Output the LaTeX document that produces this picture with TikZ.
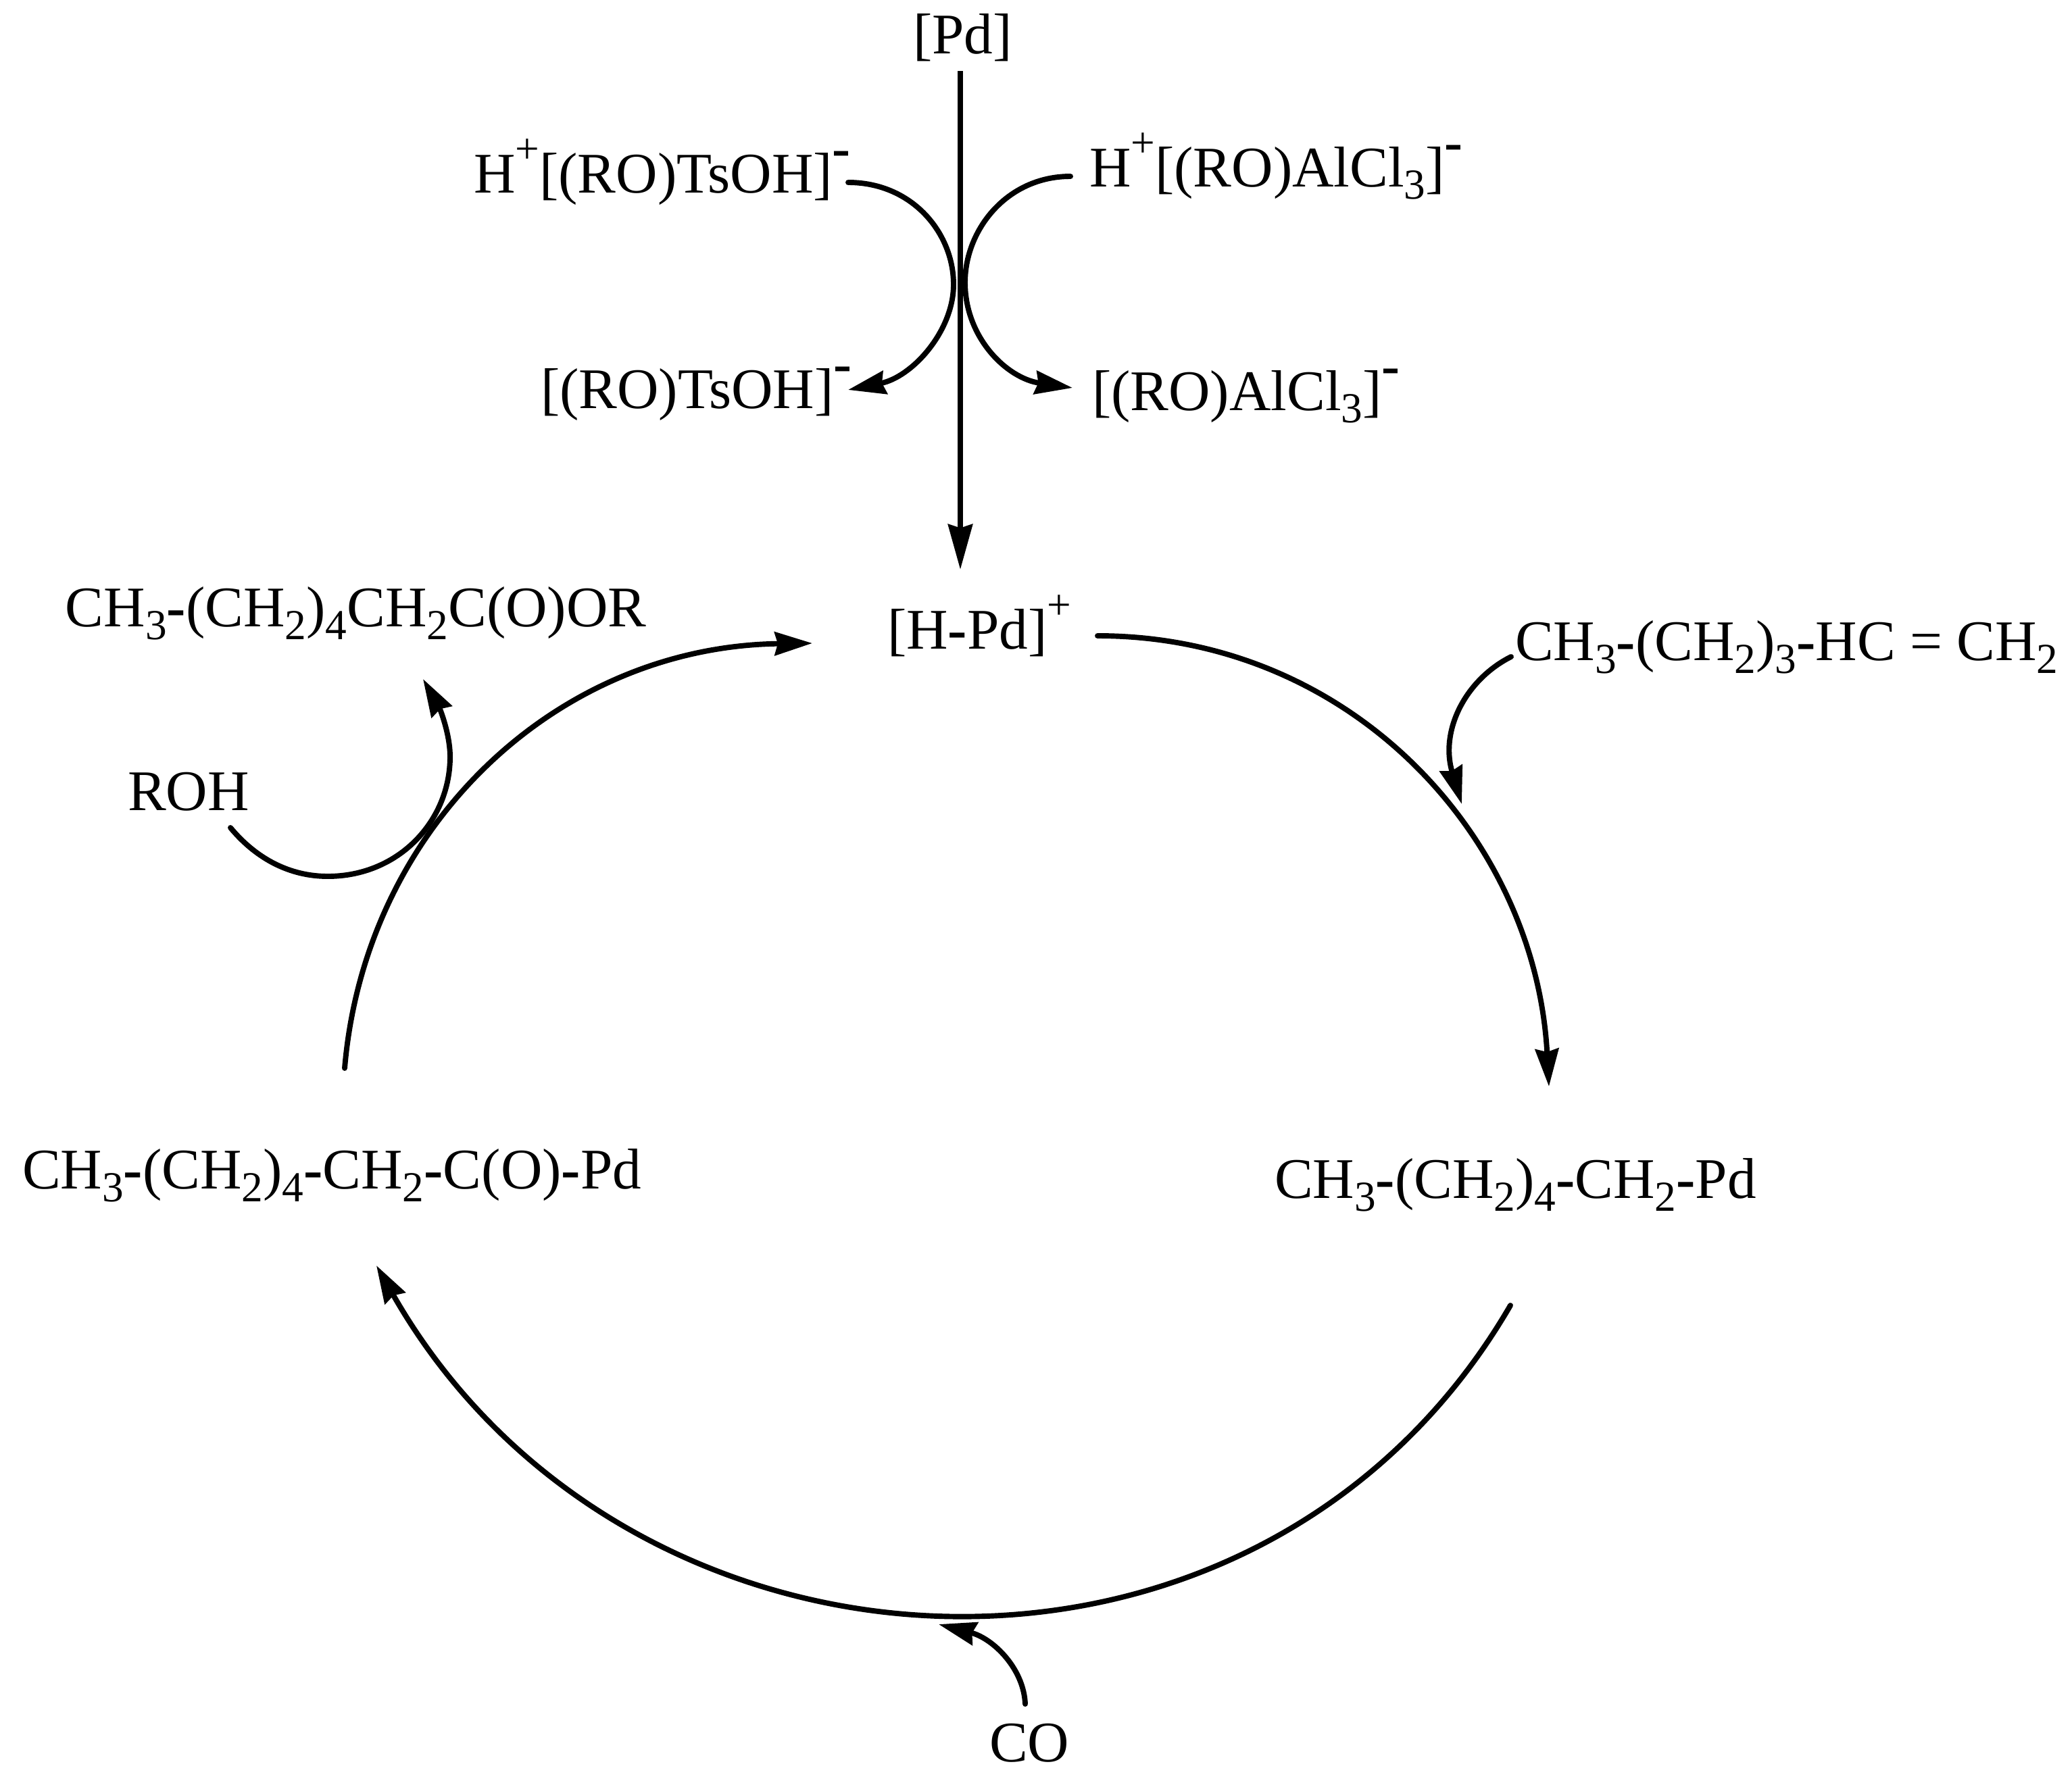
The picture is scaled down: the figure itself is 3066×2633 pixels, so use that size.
\documentclass[tikz,border=0pt]{standalone}
\usepackage{fontspec}
\setmainfont{Liberation Serif}
\usetikzlibrary{arrows.meta}
\newcommand{\dn}[1]{\raisebox{-5.4pt}{\fontsize{18pt}{19pt}\selectfont #1}}
\newcommand{\up}[1]{\raisebox{12.5pt}{\fontsize{18pt}{19pt}\selectfont #1}}
\newcommand{\upm}{\raisebox{11pt}{\fontsize{23pt}{24pt}\selectfont\bfseries -}}
\newcommand{\hy}{{\bfseries -}}
\tikzset{
  chem/.style={anchor=base west,inner sep=0pt,outer sep=0pt,font=\fontsize{24.2pt}{27pt}\selectfont},
  bond/.style={line width=2.25pt,line cap=round,black},
  headed/.style={bond,-{Stealth[length=15.8pt,width=9.8pt,inset=1.3pt]}},
  longhead/.style={line width=2.25pt,-{Stealth[length=19pt,width=10.2pt,inset=1.5pt]}}
}
\begin{document}
\begin{tikzpicture}[x=0.01cm,y=-0.01cm]
\useasboundingbox (0,0) rectangle (3066,2633);
% labels
\node[chem] (pd) at (1351,80) {[Pd]};
\node[chem] (hts) at (701,285) {H\up{+}[(RO)TsOH]\upm};
\node[chem] (hal) at (1612,276) {H\up{+}[(RO)AlCl\dn{3}]\upm};
\node[chem] (ts) at (800,604) {[(RO)TsOH]\upm};
\node[chem] (al) at (1616,607) {[(RO)AlCl\dn{3}]\upm};
\node[chem] (hpd) at (1313,960) {[H\hy Pd]\up{+}};
\node[chem] (ester) at (97,927) {CH\dn{3}\hy(CH\dn{2})\dn{4}CH\dn{2}C(O)OR};
\node[chem] (olefin) at (2242,977) {CH\dn{3}\hy(CH\dn{2})\dn{3}\hy HC = CH\dn{2}};
\node[chem] (roh) at (189,1199) {ROH};
\node[chem] (acyl) at (33,1759) {CH\dn{3}\hy(CH\dn{2})\dn{4}\hy CH\dn{2}\hy C(O)\hy Pd};
\node[chem] (alkyl) at (1886,1773) {CH\dn{3}\hy(CH\dn{2})\dn{4}\hy CH\dn{2}\hy Pd};
\node[chem] (co) at (1464,2607) {CO};
% connector ends
\coordinate (pdS) at (1421,105);
\coordinate (hpdT) at (1421,843);
\coordinate (htsE) at (1255,270);
\coordinate (tsE) at (1255,577);
\coordinate (halE) at (1584,261);
\coordinate (alE) at (1587,574);
\coordinate (hpdR) at (1624,941);
\coordinate (alkylT) at (2292,1608);
\coordinate (alkylB) at (2235,1932);
\coordinate (acylB) at (557,1873);
\coordinate (acylT) at (510,1581);
\coordinate (hpdL) at (1202,952);
\coordinate (olefinE) at (2236,972);
\coordinate (olefinT) at (2163,1190);
\coordinate (rohE) at (341,1225);
\coordinate (esterT) at (626,1005);
\coordinate (coE) at (1517,2522);
\coordinate (coT) at (1389,2404);
% connectors
\draw[longhead] (pdS) -- (hpdT);
\draw[headed] (htsE) .. controls (1350,270) and (1411,345) .. (1411,421)
  .. controls (1411,490) and (1350,558) .. (tsE);
\draw[headed] (halE) .. controls (1490,261) and (1428,340) .. (1428,418)
  .. controls (1428,500) and (1490,560) .. (alE);
\draw[headed] (hpdR) .. controls (2000,941) and (2272,1240) .. (alkylT);
\draw[headed] (alkylB) .. controls (1863,2572) and (929,2525) .. (acylB);
\draw[headed] (acylT) .. controls (540,1225) and (822,957) .. (hpdL);
\draw[headed] (olefinE) .. controls (2170,1005) and (2130,1080) .. (olefinT);
\draw[headed] (rohE) .. controls (380,1272) and (430,1297) .. (485,1297)
  .. controls (590,1297) and (666,1215) .. (666,1120)
  .. controls (666,1085) and (650,1047) .. (esterT);
\draw[headed] (coE) .. controls (1515,2470) and (1470,2425) .. (coT);
\end{tikzpicture}
\end{document}
